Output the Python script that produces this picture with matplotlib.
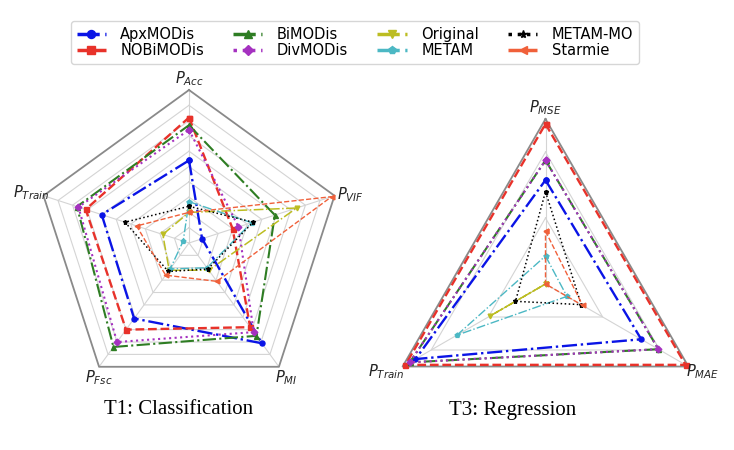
import numpy as np
import matplotlib
matplotlib.use("Agg")
import matplotlib.pyplot as plt

# ---------------- data ----------------
series_names = ["ApxMODis", "NOBiMODis", "BiMODis", "DivMODis",
                "Original", "METAM", "METAM-MO", "Starmie"]

t1_axes = [r"$P_{Acc}$", r"$P_{VIF}$", r"$P_{MI}$", r"$P_{Fsc}$", r"$P_{Train}$"]
t1_apx = [0.54, 0.09, 0.81, 0.61, 0.60]
t1_nobi = [0.82, 0.30, 0.68, 0.70, 0.71]
t1_bi = [0.77, 0.59, 0.75, 0.84, 0.77]
t1_div = [0.74, 0.34, 0.72, 0.80, 0.76]
t1_orig = [0.20, 0.74, 0.22, 0.22, 0.18]
t1_metam = [0.27, 0.43, 0.20, 0.21, 0.04]
t1_metammo = [0.24, 0.44, 0.21, 0.23, 0.44]
t1_starmie = [0.20, 0.98, 0.31, 0.26, 0.36]

t3_axes = [r"$P_{MSE}$", r"$P_{MAE}$", r"$P_{Train}$"]
t3_apx = [0.63, 0.67, 0.91]
t3_nobi = [0.97, 0.98, 0.98]
t3_bi = [0.75, 0.79, 0.95]
t3_div = [0.75, 0.79, 0.95]
t3_orig = [0.0, 0.0, 0.39]
t3_metam = [0.17, 0.15, 0.62]
t3_metammo = [0.56, 0.25, 0.21]
t3_starmie = [0.32, 0.26, 0.0]

titles = ["T1: Classification", "T3: Regression"]

# ---------------- styles ----------------
styles = {
    "ApxMODis":  dict(color="#0a14e6", marker="o", ls="-.", lw=1.7, ms=3.6),
    "NOBiMODis": dict(color="#e8322a", marker="s", ls="--", lw=1.7, ms=3.6),
    "BiMODis":   dict(color="#2e7d23", marker="^", ls="-.", lw=1.5, ms=3.6),
    "DivMODis":  dict(color="#a531c0", marker="D", ls=":",  lw=1.5, ms=3.4),
    "Original":  dict(color="#bcbd22", marker="v", ls="-.", lw=1.1, ms=3.4),
    "METAM":     dict(color="#4cb8c4", marker="p", ls="-.", lw=1.0, ms=3.4),
    "METAM-MO":  dict(color="#000000", marker="*", ls=":",  lw=1.1, ms=3.6),
    "Starmie":   dict(color="#f0603a", marker="<", ls="--", lw=1.0, ms=3.4),
}

fig = plt.figure(figsize=(7.34, 4.5), dpi=100)

FRAME_C = "#8a8a8a"
GRID_C = "#d4d4d4"


def radar(ax, labels, data, rings, label_specs):
    n = len(labels)
    theta = np.linspace(0, 2 * np.pi, n, endpoint=False)
    ax.set_theta_offset(np.pi / 2)
    ax.set_theta_direction(-1)
    ax.set_ylim(0, 1)
    ax.axis("off")
    tc = np.append(theta, theta[0])
    for r in rings:
        ax.plot(tc, [r] * (n + 1), color=GRID_C, lw=0.8, zorder=1, clip_on=False)
    for t in theta:
        ax.plot([t, t], [0, 1], color=GRID_C, lw=0.8, zorder=1, clip_on=False)
    ax.plot(tc, [1.0] * (n + 1), color=FRAME_C, lw=1.3, zorder=1.5, clip_on=False)
    handles = []
    for name, vals in zip(series_names, data):
        st = styles[name]
        v = list(vals) + [vals[0]]
        h, = ax.plot(tc, v, color=st["color"], marker=st["marker"], ls=st["ls"],
                     lw=st["lw"], ms=st["ms"], label=name, zorder=3, clip_on=False)
        handles.append(h)
    for t, lab, (ha, va, dx, dy) in zip(theta, labels, label_specs):
        ax.annotate(lab, xy=(t, 1.0), xytext=(dx, dy), textcoords="offset points",
                    ha=ha, va=va, fontsize=10.5, color="#222222")
    return handles


# left radar
cx1, cy1, R1 = 189, 243, 153
ax1 = fig.add_axes([(cx1 - R1) / 734, (450 - cy1 - R1) / 450, 2 * R1 / 734, 2 * R1 / 450],
                   projection="polar")
h = radar(ax1, t1_axes,
          [t1_apx, t1_nobi, t1_bi, t1_div, t1_orig, t1_metam, t1_metammo, t1_starmie],
          [0.1, 0.2, 0.3, 0.4, 0.5, 0.6, 0.7, 0.8, 0.9],
          [("center", "bottom", 0, 1.5), ("left", "center", 1.5, 1),
           ("center", "top", 5, -1), ("center", "top", 0, -1),
           ("right", "center", 4, 2.5)])

# right radar
cx2, cy2, R2 = 545.5, 284, 165
ax2 = fig.add_axes([(cx2 - R2) / 734, (450 - cy2 - R2) / 450, 2 * R2 / 734, 2 * R2 / 450],
                   projection="polar")
radar(ax2, t3_axes,
      [t3_apx, t3_nobi, t3_bi, t3_div, t3_orig, t3_metam, t3_metammo, t3_starmie],
      [0.4, 0.8],
      [("center", "bottom", 0, 1.5), ("left", "top", -2, 3),
       ("right", "top", 1.5, 3)])

fig.text(178.5 / 734, 1 - 410 / 450, titles[0], ha="center", va="center",
         fontsize=15, family="Liberation Serif")
fig.text(513 / 734, 1 - 410 / 450, titles[1], ha="center", va="center",
         fontsize=15, family="Liberation Serif")

leg = fig.legend(handles=h, labels=series_names, loc="upper center", ncol=4,
                 bbox_to_anchor=(355 / 734, 1 - 14 / 450), fontsize=10.5,
                 markerscale=1.6, labelspacing=0.05, handlelength=2.0,
                 handletextpad=1.0, columnspacing=2.0, borderpad=0.4,
                 frameon=True, fancybox=True, edgecolor="#cccccc")
for line in leg.get_lines():
    line.set_linewidth(2.5)

fig.savefig("out.png", dpi=100)
